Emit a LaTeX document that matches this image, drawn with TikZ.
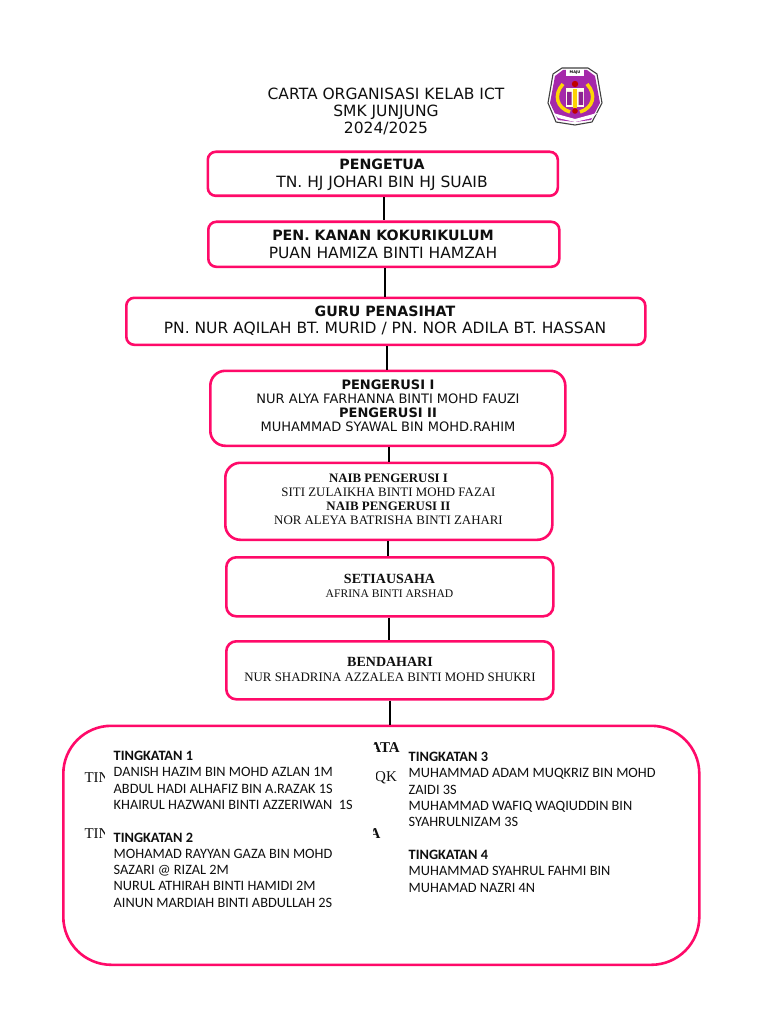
\documentclass[tikz,border=0pt]{standalone}
\usepackage{fontspec}
\setmainfont{DejaVu Sans}
\newfontfamily\serifx{Liberation Serif}
\newfontfamily\carl{Carlito}
\definecolor{pinkb}{RGB}{255,10,105}
\definecolor{txt}{RGB}{15,15,15}
\definecolor{logop}{RGB}{165,40,170}
\tikzset{
 orgbox/.style={draw=pinkb,line width=2.6pt,rounded corners=8pt,fill=white,inner sep=0pt,anchor=north west},
 link/.style={draw=black,line width=2.3pt},
 lbl/.style={inner sep=0pt,align=center,text=txt},
 lst/.style={inner sep=0pt,align=left,anchor=north west,text=txt,font=\carl\fontsize{14.3}{16.3}\selectfont},
}
\begin{document}
\begin{tikzpicture}[x=1pt,y=-1pt]
\useasboundingbox (0,0) rectangle (768,1024);
\fill[white] (0,0) rectangle (768,1024);
% title
\node[lbl,font=\fontsize{15.5}{17}\selectfont] (title) at (386,111) {CARTA ORGANISASI KELAB ICT\\SMK JUNJUNG\\2024/2025};
% logo
\path[fill=white,draw=black!75,line width=1.1pt,line join=round] (562,68) -- (588,68) -- (597,74) -- (602,103) -- (592,122) -- (575,125) -- (556,122) -- (548,103) -- (553,74) -- cycle;
\path[fill=logop] (563,70) -- (587,70) -- (595,76) -- (600,103) -- (591,120) -- (575,122) -- (558,120) -- (550,103) -- (555,76) -- cycle;
\fill[white] (566,69.5) rectangle (584,76);
\node[inner sep=0pt,font=\bfseries\fontsize{3.6}{4}\selectfont] (lg1) at (575,72.8) {MAJU};
\draw[yellow!75!orange,line width=3.5pt] (563,84) .. controls (553,95) and (557,108) .. (570,112);
\draw[yellow!75!orange,line width=3.5pt] (587,84) .. controls (597,95) and (593,108) .. (580,112);
\fill[white!92!yellow] (566,88) rectangle (584,107);
\fill[logop!85!black] (567,92) rectangle (571.5,105) (578.5,92) rectangle (583,105);
\fill[yellow!70!orange] (573,89) rectangle (577,108);
\fill[red!75!black] (575,84) circle[radius=3.2] (575,111) circle[radius=2.8];
\fill[white] (553,113) -- (575,119) -- (597,113) -- (592,118) -- (575,122) -- (558,118) -- cycle;
% boxes
\node[orgbox,minimum width=350pt,minimum height=44pt] (b1) at (206.5,150.5) {};
\node[orgbox,minimum width=351pt,minimum height=45pt] (b2) at (207,220.5) {};
\node[orgbox,minimum width=519pt,minimum height=47pt] (b3) at (125,296.5) {};
\node[orgbox,minimum width=355pt,minimum height=75pt,rounded corners=15pt] (b4) at (209,369.5) {};
\node[orgbox,minimum width=327pt,minimum height=77pt,rounded corners=15pt] (b5) at (224,461.5) {};
\node[orgbox,minimum width=327pt,minimum height=59pt,rounded corners=10pt] (b6) at (225,556) {};
\node[orgbox,minimum width=327pt,minimum height=58pt,rounded corners=10pt] (b7) at (225,640) {};
\node[orgbox,minimum width=636pt,minimum height=239pt,rounded corners=48pt] (b8) at (62,724.5) {};
% connectors
\draw[link] (b1.south -| 384,0) -- (b2.north -| 384,0);
\draw[link] (b2.south -| 385,0) -- (b3.north -| 385,0);
\draw[link] (b3.south -| 387,0) -- (b4.north -| 387,0);
\draw[link] (b4.south -| 389,0) -- (b5.north -| 389,0);
\draw[link] (b5.south -| 388,0) -- (b6.north -| 388,0);
\draw[link] (b6.south -| 389,0) -- (b7.north -| 389,0);
\draw[link] (b7.south -| 390,0) -- (b8.north -| 390,0);
% box texts
\node[lbl,font=\fontsize{15.5}{17.5}\selectfont] (t1) at (382,175) {\fontsize{14.2}{17.5}\selectfont\bfseries PENGETUA\\TN. HJ JOHARI BIN HJ SUAIB};
\node[lbl,font=\fontsize{15.5}{18}\selectfont] (t2) at (383,244.5) {\fontsize{14.2}{18}\selectfont\bfseries PEN. KANAN KOKURIKULUM\\PUAN HAMIZA BINTI HAMZAH};
\node[lbl,font=\fontsize{15.5}{17}\selectfont] (t3) at (385,320.5) {\fontsize{14.2}{17}\selectfont\bfseries GURU PENASIHAT\\PN. NUR AQILAH BT. MURID / PN. NOR ADILA BT. HASSAN};
\node[lbl,font=\fontsize{13}{14}\selectfont] (t4) at (388,406) {\bfseries PENGERUSI I\\NUR ALYA FARHANNA BINTI MOHD FAUZI\\\bfseries PENGERUSI II\\MUHAMMAD SYAWAL BIN MOHD.RAHIM};
\node[lbl,font=\serifx\fontsize{12.9}{14}\selectfont] (t5) at (388.5,499) {\bfseries NAIB PENGERUSI I\\SITI ZULAIKHA BINTI MOHD FAZAI\\\bfseries NAIB PENGERUSI II\\NOR ALEYA BATRISHA BINTI ZAHARI};
\node[lbl,font=\serifx\fontsize{11.6}{14}\selectfont] (t6) at (389.5,586) {\fontsize{14}{14}\selectfont\bfseries SETIAUSAHA\\AFRINA BINTI ARSHAD};
\node[lbl,font=\serifx\fontsize{12.9}{15}\selectfont] (t7) at (390,669.5) {\fontsize{14}{15}\selectfont\bfseries BENDAHARI\\NUR SHADRINA AZZALEA BINTI MOHD SHUKRI};
% partly hidden text behind the lists
\node[lbl,font=\serifx\fontsize{15}{15}\selectfont] (f1) at (97,778) {TIN};
\node[lbl,font=\serifx\fontsize{15}{15}\selectfont] (f2) at (97,833.5) {TIN};
\node[lbl,font=\serifx\bfseries\fontsize{15}{15}\selectfont] (f3) at (385,748) {ATA};
\node[lbl,font=\serifx\fontsize{15}{15}\selectfont] (f4) at (386,778) {QK};
\node[lbl,font=\serifx\bfseries\fontsize{15}{15}\selectfont] (f5) at (375,834) {A};
\fill[white] (105,745) rectangle (373,915);
\fill[white] (400,745) rectangle (665,900);
\fill[white] (365,755) rectangle (400,767);
\fill[white] (365,787) rectangle (400,827);
\fill[white] (373,745) rectangle (376,787);
% lists
\node[lst] (l1) at (113.5,751) {\textbf{TINGKATAN 1}\\DANISH HAZIM BIN MOHD AZLAN 1M\\ABDUL HADI ALHAFIZ BIN A.RAZAK 1S\\KHAIRUL HAZWANI BINTI AZZERIWAN\ \ 1S};
\node[lst] (l2) at (113.5,832.5) {\textbf{TINGKATAN 2}\\MOHAMAD RAYYAN GAZA BIN MOHD\\SAZARI @ RIZAL 2M\\NURUL ATHIRAH BINTI HAMIDI 2M\\AINUN MARDIAH BINTI ABDULLAH 2S};
\node[lst] (l3) at (408.5,752) {\textbf{TINGKATAN 3}\\MUHAMMAD ADAM MUQKRIZ BIN MOHD\\ZAIDI 3S\\MUHAMMAD WAFIQ WAQIUDDIN BIN\\SYAHRULNIZAM 3S};
\node[lst] (l4) at (408.5,850) {\textbf{TINGKATAN 4}\\MUHAMMAD SYAHRUL FAHMI BIN\\MUHAMAD NAZRI 4N};
\end{tikzpicture}
\end{document}
